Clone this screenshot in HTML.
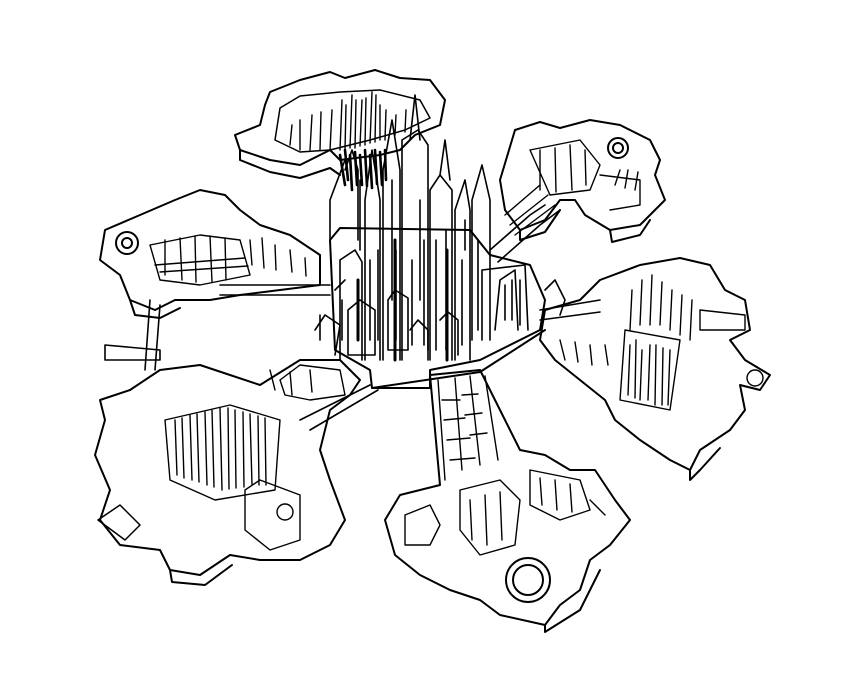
<!DOCTYPE html>
<html><head><meta charset="utf-8"><style>
html,body{margin:0;padding:0;background:#fff;width:855px;height:688px;overflow:hidden}
svg{display:block}
</style></head><body>
<svg width="855" height="688" viewBox="0 0 855 688" xmlns="http://www.w3.org/2000/svg" fill="none" stroke="#000" stroke-width="2" stroke-linejoin="round" stroke-linecap="round">
<!-- central plaza -->
<path d="M330 240 L335 350 L370 370 L372 388 L430 388 L430 370 L480 360 L540 330 L545 300 L530 265 L490 255 L470 230 L340 228 Z"/>
<path d="M372 388 L480 372 L545 330"/>
<!-- central towers -->
<g stroke-width="1.6">
<path d="M340 360 L340 260 L355 250 L362 262 L362 360"/>
<path d="M365 360 L365 200 L372 150 L380 200 L380 360"/>
<path d="M383 360 L383 170 L392 120 L400 170 L400 360"/>
<path d="M402 360 L402 140 L418 130 L428 145 L428 360"/>
<path d="M410 140 L415 95 L420 140"/>
<path d="M430 360 L430 190 L440 175 L452 190 L452 360"/>
<path d="M440 175 L445 140 L450 180"/>
<path d="M455 360 L455 210 L465 180 L470 210 L470 360"/>
<path d="M472 340 L472 200 L482 165 L490 200 L490 340"/>
<path d="M482 340 L482 270 L525 265 L528 330"/>
<path d="M348 310 L360 300 L375 310 L375 355 L348 355 Z"/>
<path d="M388 300 L395 290 L408 298 L408 350 L388 350 Z"/>
<path d="M410 330 L418 320 L428 330 L428 350"/>
<path d="M440 320 L448 312 L458 320 L458 355"/>
<path d="M345 170 L352 150 L358 170 L358 240"/>
<path d="M330 240 L330 200 L345 160"/>
<path d="M495 330 L500 280 L515 270 L518 330"/>
<path d="M360 250 L360 180 M392 300 L392 180 M420 300 L420 200 M465 250 L465 220"/>
<path d="M335 290 L345 280 M342 340 L342 300 M370 340 L370 260 M378 340 L378 250 M396 340 L396 250 M412 345 L412 260 M424 345 L424 240 M436 350 L436 240 M446 350 L446 230 M462 345 L462 260 M478 330 L478 240 M505 320 L505 285 M512 320 L512 280 M520 325 L520 280"/>
<path d="M395 240 L395 360 M447 250 L447 360 M358 280 L358 340" stroke-width="3"/>
<path d="M315 330 L325 315 L340 325 L335 355 M320 315 L320 340"/>
<path d="M545 290 L555 280 L565 300 L560 315"/>
</g>
<!-- top pod -->
<path d="M270 92 L300 80 L330 72 L345 78 L375 70 L400 78 L430 80 L445 100 L440 125 L415 135 L400 150 L380 155 L340 160 L330 150 L300 165 L270 160 L240 150 L235 135 L260 125 L265 105 Z"/>
<path d="M240 150 L240 160 L270 172 L300 178 L330 168 L340 175"/>
<path d="M280 108 L300 96 L340 92 L380 90 L420 100 L430 118 L405 130 L370 140 L330 150 L300 152 L275 140 Z" stroke-width="1.5"/>
<g stroke-width="1.4">
<path d="M330 150 L332 110 M340 150 L342 100 M350 148 L352 95 M360 146 L362 100 M370 143 L372 92 M380 140 L380 105 M300 150 L300 120 M310 150 L312 115 M290 145 L292 125 M320 150 L321 112 M345 150 L346 105 M355 148 L356 100 M365 145 L366 98 M375 142 L376 95 M385 140 L386 110 M395 135 L396 115 M405 132 L406 110"/>
<path d="M340 155 L345 185 M350 155 L352 190 M360 155 L362 185 M370 155 L372 188 M380 152 L382 185 M345 150 L348 180 M355 152 L357 185 M365 150 L367 186 M375 150 L377 184 M385 150 L386 180" stroke-width="2.6"/>
</g>
<!-- top-right pod -->
<path d="M515 130 L540 122 L560 128 L590 120 L620 125 L650 140 L660 160 L655 175 L665 200 L650 215 L640 225 L610 230 L585 215 L575 200 L560 200 L545 220 L520 230 L505 210 L500 180 Z"/>
<path d="M520 230 L520 240 L545 232 L560 210 M610 230 L612 242 L640 235 L650 220"/>
<circle cx="618" cy="148" r="10"/><circle cx="618" cy="148" r="5"/>
<g stroke-width="1.4">
<path d="M530 150 L580 140 L600 165 L590 190 L550 195 Z"/>
<path d="M540 150 L540 190 M555 148 L556 192 M570 145 L572 190 M585 150 L586 185"/>
<path d="M600 175 L640 180 L640 205 L610 210"/>
<path d="M615 185 L620 170 M625 188 L628 170 M635 190 L638 172"/>
<path d="M505 215 L540 185 M510 225 L548 195 M515 235 L555 205"/>
</g>
<!-- bridge top-right -->
<path d="M490 250 L530 215 L545 205 M498 262 L540 225 L560 210" stroke-width="1.6"/>
<!-- left pod -->
<path d="M105 230 L140 215 L175 200 L200 190 L225 195 L240 210 L260 225 L290 235 L320 255 L320 285 L280 290 L240 295 L210 300 L175 300 L155 310 L130 300 L120 275 L100 260 Z"/>
<path d="M130 300 L135 315 L160 318 L180 308"/>
<circle cx="127" cy="243" r="11"/><circle cx="127" cy="243" r="5"/>
<g stroke-width="1.4">
<path d="M150 245 L200 235 L240 240 L250 275 L200 285 L160 280 Z"/>
<path d="M165 240 L165 275 M180 238 L182 280 M195 236 L196 282 M210 236 L212 282 M225 238 L226 280"/>
<path d="M250 240 L252 265 M262 238 L264 268 M275 245 L276 270 M290 250 L292 272 M305 258 L306 276"/>
<path d="M155 265 L245 258 M160 272 L248 266"/>
</g>
<!-- left bridge -->
<path d="M220 285 L330 285 M220 295 L330 295" stroke-width="1.6"/>
<path d="M150 300 L145 370 M160 305 L155 370 M105 345 L160 350 L160 360 L105 360 Z" stroke-width="1.6"/>
<!-- right pod -->
<path d="M600 280 L640 265 L680 258 L710 265 L725 290 L745 300 L750 330 L730 340 L745 360 L770 375 L760 390 L740 385 L745 410 L730 430 L715 440 L700 450 L690 470 L670 460 L640 440 L615 420 L605 400 L580 380 L555 360 L540 340 L545 310 L580 300 Z"/>
<path d="M690 470 L690 480 L700 470 L720 448"/>
<g stroke-width="1.4">
<path d="M625 330 L620 400 L670 410 L680 340 Z"/>
<path d="M630 330 L632 290 M640 325 L642 280 M650 325 L652 275 M660 325 L662 282 M670 330 L672 290 M680 335 L682 295 M690 340 L692 300"/>
<path d="M640 400 L642 350 M655 405 L656 345 M668 405 L670 350 M628 395 L630 345 M635 398 L636 340 M648 400 L650 345 M662 405 L663 348"/>
<path d="M700 310 L745 315 L745 330 L700 330 Z"/>
<circle cx="755" cy="378" r="8"/>
<path d="M560 340 L565 360 M575 342 L578 362 M590 345 L592 365 M605 345 L608 365"/>
</g>
<path d="M540 310 L600 300 M540 320 L600 312" stroke-width="1.6"/>
<!-- bottom-left pod -->
<path d="M130 390 L160 370 L200 365 L230 375 L260 385 L300 360 L340 360 L360 380 L350 395 L330 410 L320 450 L330 480 L345 520 L330 545 L300 560 L260 560 L230 555 L200 575 L170 570 L160 550 L120 545 L100 520 L110 490 L95 455 L105 420 L100 400 Z"/>
<path d="M170 570 L172 582 L205 585 L232 565"/>
<path d="M98 520 L120 505 L140 525 L125 540 Z" stroke-width="1.5"/>
<g stroke-width="1.4">
<path d="M165 420 L230 405 L280 420 L275 490 L215 500 L170 480 Z"/>
<path d="M175 420 L177 475 M190 415 L192 480 M205 412 L207 485 M220 408 L222 490 M235 410 L236 488 M250 414 L252 485 M265 418 L266 485"/>
<path d="M182 418 L184 478 M197 414 L199 482 M212 410 L214 487 M228 408 L229 489 M243 412 L244 487 M258 416 L259 485"/>
<path d="M245 490 L260 480 L300 495 L300 540 L270 550 L245 530 Z"/>
<circle cx="285" cy="512" r="8"/>
<path d="M280 380 L300 365 L340 370 L345 395 L310 400 L285 395 Z"/>
<path d="M270 370 L275 390 M290 372 L292 395 M310 370 L312 392"/>
</g>
<path d="M300 420 L370 385 M310 430 L378 390" stroke-width="1.6"/>
<!-- bottom pod -->
<path d="M430 375 L480 370 L500 410 L520 450 L545 455 L570 470 L595 470 L615 500 L630 520 L610 545 L590 560 L580 590 L560 605 L545 625 L500 615 L480 600 L450 590 L420 575 L395 555 L385 520 L400 495 L440 485 L435 430 Z"/>
<path d="M545 625 L545 632 L580 610 L600 570"/>
<g stroke-width="1.4">
<path d="M438 380 L445 480 M455 378 L462 470 M470 376 L480 465 M485 376 L498 460"/>
<path d="M442 400 L460 400 M444 420 L465 418 M447 440 L470 438 M450 460 L475 458 M462 395 L478 394 M465 415 L482 413 M470 435 L487 433"/>
<path d="M405 515 L430 505 L440 525 L430 545 L405 545 Z"/>
<path d="M460 490 L500 480 L520 500 L515 545 L480 555 L460 530 Z"/>
<path d="M530 470 L580 480 L590 510 L560 520 L530 505 Z"/>
<path d="M590 500 L605 515"/>
<path d="M470 500 L472 540 M485 495 L487 545 M500 492 L502 540 M540 478 L542 505 M555 480 L557 510 M570 484 L572 512"/>
</g>
<circle cx="528" cy="580" r="22"/><circle cx="528" cy="580" r="15"/>
</svg>
</body></html>
